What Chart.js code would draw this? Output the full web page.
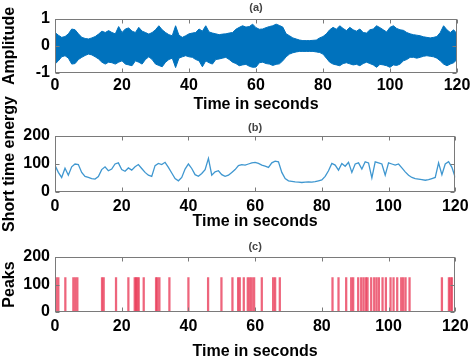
<!DOCTYPE html>
<html>
<head>
<meta charset="utf-8">
<script src="https://cdn.jsdelivr.net/npm/chart.js@4.4.1/dist/chart.umd.min.js"></script>
<style>
  html, body { margin: 0; padding: 0; background: #fff; }
  body { width: 474px; height: 359px; overflow: hidden; position: relative; }
  canvas { position: absolute; left: 0; top: 0; }
</style>
</head>
<body>
<canvas id="ampChart" width="474" height="370"></canvas>
<canvas id="energyChart" width="474" height="370"></canvas>
<canvas id="peakChart" width="474" height="370"></canvas>
<script>
// ── Data ──
// sampling grid of the envelopes / energy curve, one point per second
const seconds = Array.from({ length: 121 }, (_, i) => i);

// (a) waveform envelope, upper and lower edge
const ampUpper = [
  0.50, 0.40, 0.32, 0.35, 0.45, 0.63, 0.60, 0.45, 0.32, 0.28,
  0.26, 0.30, 0.35, 0.44, 0.55, 0.50, 0.57, 0.50, 0.45, 0.72,
  0.50, 0.63, 0.67, 0.55, 0.50, 0.69, 0.55, 0.50, 0.44, 0.50,
  0.60, 0.75, 0.60, 0.50, 0.42, 0.38, 0.75, 0.40, 0.32, 0.38,
  0.45, 0.48, 0.50, 0.63, 0.55, 0.75, 0.52, 0.48, 0.45, 0.42,
  0.44, 0.45, 0.48, 0.50, 0.62, 0.69, 0.75, 0.70, 0.72, 0.81,
  0.68, 0.62, 0.63, 0.68, 0.72, 0.75, 0.81, 0.76, 0.70, 0.45,
  0.38, 0.30, 0.26, 0.22, 0.20, 0.20, 0.20, 0.21, 0.22, 0.30,
  0.35, 0.45, 0.60, 0.69, 0.62, 0.75, 0.65, 0.57, 0.69, 0.60,
  0.55, 0.63, 0.50, 0.48, 0.60, 0.63, 0.75, 0.68, 0.60, 0.52,
  0.69, 0.75, 0.65, 0.60, 0.58, 0.50, 0.45, 0.42, 0.40, 0.38,
  0.34, 0.32, 0.30, 0.32, 0.35, 0.50, 0.75, 0.60, 0.50, 0.60,
  0.45
];
const ampLower = [
  -0.67, -0.55, -0.40, -0.36, -0.45, -0.67, -0.65, -0.50, -0.42, -0.35,
  -0.30, -0.33, -0.40, -0.48, -0.60, -0.67, -0.60, -0.62, -0.67, -0.60,
  -0.55, -0.67, -0.70, -0.73, -0.55, -0.60, -0.67, -0.50, -0.40, -0.50,
  -0.67, -0.72, -0.77, -0.60, -0.50, -0.45, -0.80, -0.45, -0.40, -0.36,
  -0.40, -0.42, -0.50, -0.55, -0.77, -0.55, -0.62, -0.67, -0.50, -0.48,
  -0.45, -0.42, -0.50, -0.60, -0.65, -0.73, -0.70, -0.68, -0.75, -0.79,
  -0.78, -0.62, -0.60, -0.65, -0.67, -0.72, -0.68, -0.66, -0.55, -0.40,
  -0.30, -0.25, -0.22, -0.20, -0.20, -0.20, -0.20, -0.20, -0.22, -0.24,
  -0.30, -0.45, -0.60, -0.67, -0.70, -0.73, -0.65, -0.62, -0.66, -0.70,
  -0.68, -0.73, -0.65, -0.60, -0.65, -0.70, -0.79, -0.68, -0.70, -0.73,
  -0.79, -0.70, -0.72, -0.67, -0.55, -0.50, -0.42, -0.42, -0.45, -0.42,
  -0.38, -0.36, -0.38, -0.40, -0.45, -0.55, -0.67, -0.73, -0.67, -0.62,
  -0.50
];

// (b) short time energy
const energy = [
   95,  70,  52,  85,  60,  90, 100,  98,  70,  56,
   52,  48,  46,  55,  80,  90,  76,  82, 100, 104,
   80,  74,  86,  78,  90,  98,  84,  70,  60,  56,
   94, 102,  98, 106,  88,  68,  48,  40,  52,  82,
  100,  84,  62,  56,  66,  80, 120,  60,  72,  76,
   62,  56,  60,  70,  80,  94,  98,  96, 100, 104,
  106, 102,  96,  92,  88, 104, 110, 108,  70,  48,
   40,  38,  36,  35,  34,  35,  36,  35,  37,  40,
   43,  56,  76, 102,  96,  78, 102,  92, 106,  70,
  100, 104,  82, 108, 104,  50, 108, 104, 100,  60,
  104, 100,  96, 100,  86,  72,  60,  52,  48,  46,
   44,  42,  44,  48,  52, 104,  62, 100, 108,  88,
   52
];

// (c) detected peaks (time in s), all drawn at the same height
const peakTimes = [
  0.4, 1.0, 3.1, 5.5, 6.1, 6.7, 14.1, 14.6, 18.3, 22.0,
  23.9, 24.3, 24.7, 25.1, 26.6, 30.3, 30.7, 31.3, 34.3, 40.0,
  45.9, 49.9, 53.2, 54.9, 55.4, 56.6, 57.8, 58.4, 59.0, 59.7,
  62.0, 65.4, 66.0, 67.4, 83.2, 85.0, 87.3, 88.8, 89.4, 90.9,
  91.8, 92.5, 93.2, 93.7, 94.8, 95.7, 96.4, 97.1, 98.2, 99.2,
  100.6, 101.5, 102.6, 103.8, 104.4, 105.1, 106.3, 116.0, 118.1, 118.6,
  119.0
];
const peakHeight = 125;

const xTicks = [0, 20, 40, 60, 80, 100, 120];

// ── Style ──
const FONT = "'Liberation Sans', Arial, Helvetica, sans-serif";
const AXIS_COLOR = "#7a7a7a";
const TICK_LEN = 4;
const CANVAS_H = 370;

// box + inward tick marks, MATLAB style
const boxTicks = {
  id: "boxTicks",
  afterDatasetsDraw(chart) {
    const { ctx, chartArea: a, scales: { x, y } } = chart;
    ctx.save();
    ctx.strokeStyle = AXIS_COLOR;
    ctx.lineWidth = 1;
    const l = Math.round(a.left) + 0.5, r = Math.round(a.right) - 0.5;
    const t = Math.round(a.top) + 0.5, b = Math.round(a.bottom) - 0.5;
    ctx.strokeRect(l, t, r - l, b - t);
    ctx.beginPath();
    x.ticks.forEach(tk => {
      const px = Math.round(x.getPixelForValue(tk.value)) + 0.5;
      ctx.moveTo(px, b); ctx.lineTo(px, b - TICK_LEN);
      ctx.moveTo(px, t); ctx.lineTo(px, t + TICK_LEN);
    });
    y.ticks.forEach(tk => {
      const py = Math.round(y.getPixelForValue(tk.value)) + 0.5;
      ctx.moveTo(l, py); ctx.lineTo(l + TICK_LEN, py);
      ctx.moveTo(r, py); ctx.lineTo(r - TICK_LEN, py);
    });
    ctx.stroke();
    ctx.restore();
  }
};

function pts(xs, ys) {
  return xs.map((v, i) => ({ x: v, y: ys[i] }));
}

// geo: titleY = centre of "(a)", top/bottom = plot box, xTitleY = centre of x title
function makePanel(id, geo, panel) {
  const layoutTop = geo.titleY - 8;
  const xHeight = geo.xTitleY + 11.6 - geo.bottom;
  return new Chart(document.getElementById(id), {
    type: panel.type,
    data: { datasets: panel.datasets },
    plugins: [boxTicks],
    options: {
      responsive: false,
      animation: false,
      events: [],
      layout: { padding: { top: layoutTop, bottom: CANVAS_H - geo.bottom - xHeight, left: 0, right: 17 } },
      plugins: {
        legend: { display: false },
        tooltip: { enabled: false },
        title: {
          display: true, text: panel.title, fullSize: false, color: "#444",
          font: { family: FONT, size: 11, weight: "bold", lineHeight: 1.2 },
          padding: { top: 1.4, bottom: geo.top - geo.titleY - 6.6 }
        }
      },
      scales: {
        x: {
          type: "linear", min: 0, max: 120, offset: false,
          afterBuildTicks: s => { s.ticks = xTicks.map(v => ({ value: v })); },
          ticks: { color: "#000", font: { family: FONT, size: 16, weight: "bold" }, padding: geo.tickPad, maxRotation: 0, autoSkip: false },
          grid: { display: false, drawTicks: false, offset: false },
          border: { display: false },
          title: { display: true, text: "Time in seconds", color: "#000",
                   font: { family: FONT, size: 16, weight: "bold" }, padding: { top: 0, bottom: 2 } },
          afterFit: s => { s.height = xHeight; }
        },
        y: {
          min: panel.yMin, max: panel.yMax,
          afterBuildTicks: s => { s.ticks = panel.yTicks.map(v => ({ value: v })); },
          ticks: { color: "#000", font: { family: FONT, size: 16, weight: "bold" }, padding: 5 },
          grid: { display: false, drawTicks: false },
          border: { display: false },
          title: { display: true, text: panel.yTitle, color: "#000",
                   font: { family: FONT, size: 16, weight: "bold" }, padding: { top: 0, bottom: 0 } },
          afterFit: s => { s.width = 55; }
        }
      }
    }
  });
}

// ── (a) amplitude ──
makePanel("ampChart", { titleY: 8, top: 19, bottom: 73, xTitleY: 105, tickPad: 3.4 }, {
  type: "line", title: "(a)", yTitle: "Amplitude", yMin: -1, yMax: 1, yTicks: [-1, 0, 1],
  datasets: [
    { data: pts(seconds, ampUpper), borderColor: "#0072BD", backgroundColor: "#0072BD",
      borderWidth: 1, pointRadius: 0, tension: 0, fill: "+1" },
    { data: pts(seconds, ampLower), borderColor: "#0072BD", backgroundColor: "#0072BD",
      borderWidth: 1, pointRadius: 0, tension: 0, fill: false }
  ]
});

// ── (b) short time energy ──
makePanel("energyChart", { titleY: 128, top: 136, bottom: 192, xTitleY: 222, tickPad: 5.4 }, {
  type: "line", title: "(b)", yTitle: "Short time energy", yMin: 0, yMax: 200, yTicks: [0, 100, 200],
  datasets: [
    { data: pts(seconds, energy), borderColor: "#3f97d0", borderWidth: 1.3,
      pointRadius: 0, tension: 0, fill: false }
  ]
});

// ── (c) peaks ──
makePanel("peakChart", { titleY: 247, top: 257, bottom: 312, xTitleY: 352, tickPad: 5.4 }, {
  type: "bar", title: "(c)", yTitle: "Peaks", yMin: 0, yMax: 200, yTicks: [0, 100, 200],
  datasets: [
    { data: peakTimes.map(t => ({ x: t, y: peakHeight })), backgroundColor: "rgba(232,50,80,0.75)",
      barThickness: 1.6, borderWidth: 0 }
  ]
});
</script>
</body>
</html>
